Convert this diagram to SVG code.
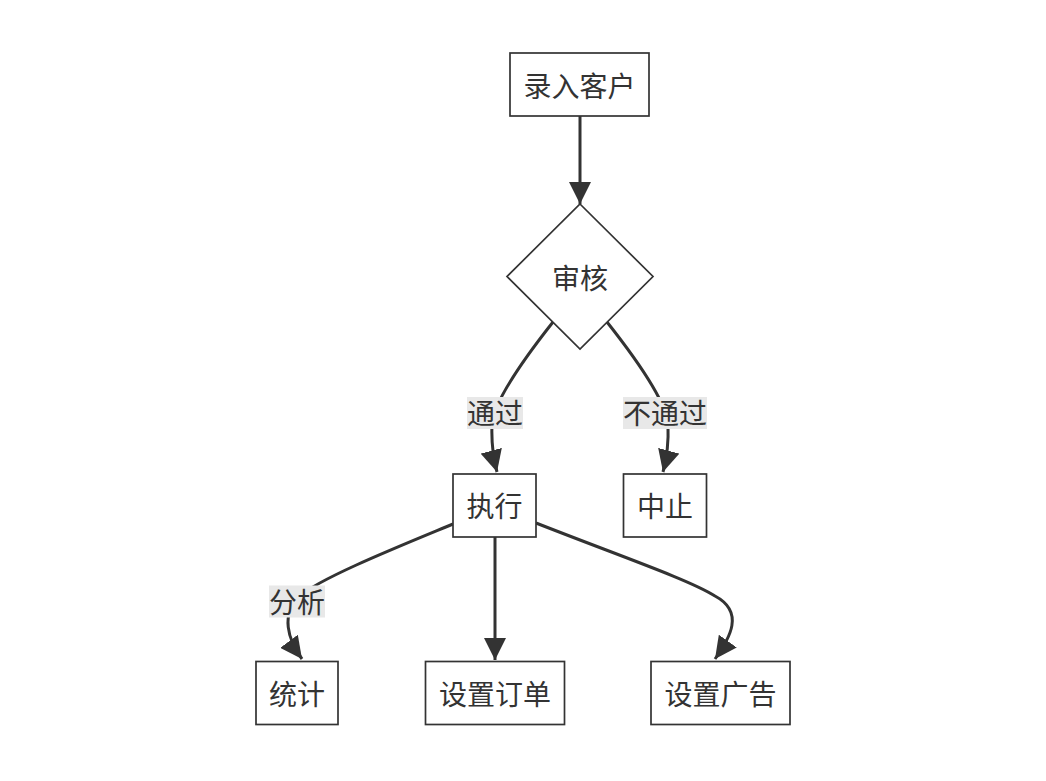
<svg xmlns="http://www.w3.org/2000/svg" width="1046" height="781" viewBox="0 0 1046 781">
<style>
.node rect, .node polygon { fill: #ffffff; stroke: #333333; stroke-width: 1.7; }
.node text, .elabel text { font-family: "Noto Sans CJK SC", "Noto Sans", sans-serif; font-size: 28px; fill: #333333; text-anchor: middle; }
.edge { fill: none; stroke: #333333; stroke-width: 3; marker-end: url(#arrow); }
.elabel rect { fill: #e8e8e8; stroke: none; }
</style>
<defs>
<marker id="arrow" viewBox="0 0 10 10" refX="10" refY="5" markerUnits="userSpaceOnUse" markerWidth="22" markerHeight="22" orient="auto">
<path d="M0,0 L10,5 L0,10 z" fill="#333333"/>
</marker>
</defs>
<rect x="0" y="0" width="1046" height="781" fill="#ffffff"/>
<g id="edges">
<path class="edge" d="M580,116 L580,204"/>
<path class="edge" d="M553,322 Q493,398 492,425 Q491,450 497,472"/>
<path class="edge" d="M607,322 Q667,398 668,425 Q669,450 663,472"/>
<path class="edge" d="M453,524 C400,546 320,578 300,596 C280,614 288,640 302,659"/>
<path class="edge" d="M495,537 L495,660"/>
<path class="edge" d="M536,523 C620,556 690,580 715,596 C745,612 730,638 715,659"/>
</g>
<g id="edge-labels">
<g class="elabel" id="label-pass"><rect x="467" y="397" width="56" height="32"/><text x="495" y="424">通过</text></g>
<g class="elabel" id="label-fail"><rect x="623" y="397" width="84" height="32"/><text x="665" y="424">不通过</text></g>
<g class="elabel" id="label-analyze"><rect x="269" y="585.5" width="56" height="32"/><text x="297" y="612.5">分析</text></g>
</g>
<g class="node" id="node-input"><rect x="510" y="53" width="139" height="63"/><text x="579.5" y="96.5">录入客户</text></g>
<g class="node" id="node-review"><polygon points="580,204 653,276.5 580,349 507,276.5"/><text x="580" y="288.5">审核</text></g>
<g class="node" id="node-exec"><rect x="453" y="474" width="83" height="63"/><text x="494.5" y="517">执行</text></g>
<g class="node" id="node-stop"><rect x="623.5" y="474" width="83" height="63"/><text x="665" y="517">中止</text></g>
<g class="node" id="node-stats"><rect x="256" y="661.5" width="82" height="63"/><text x="297" y="704.5">统计</text></g>
<g class="node" id="node-order"><rect x="425.5" y="661.5" width="139" height="63"/><text x="495" y="704.5">设置订单</text></g>
<g class="node" id="node-ad"><rect x="651" y="661.5" width="139" height="63"/><text x="720.5" y="704.5">设置广告</text></g>
</svg>
